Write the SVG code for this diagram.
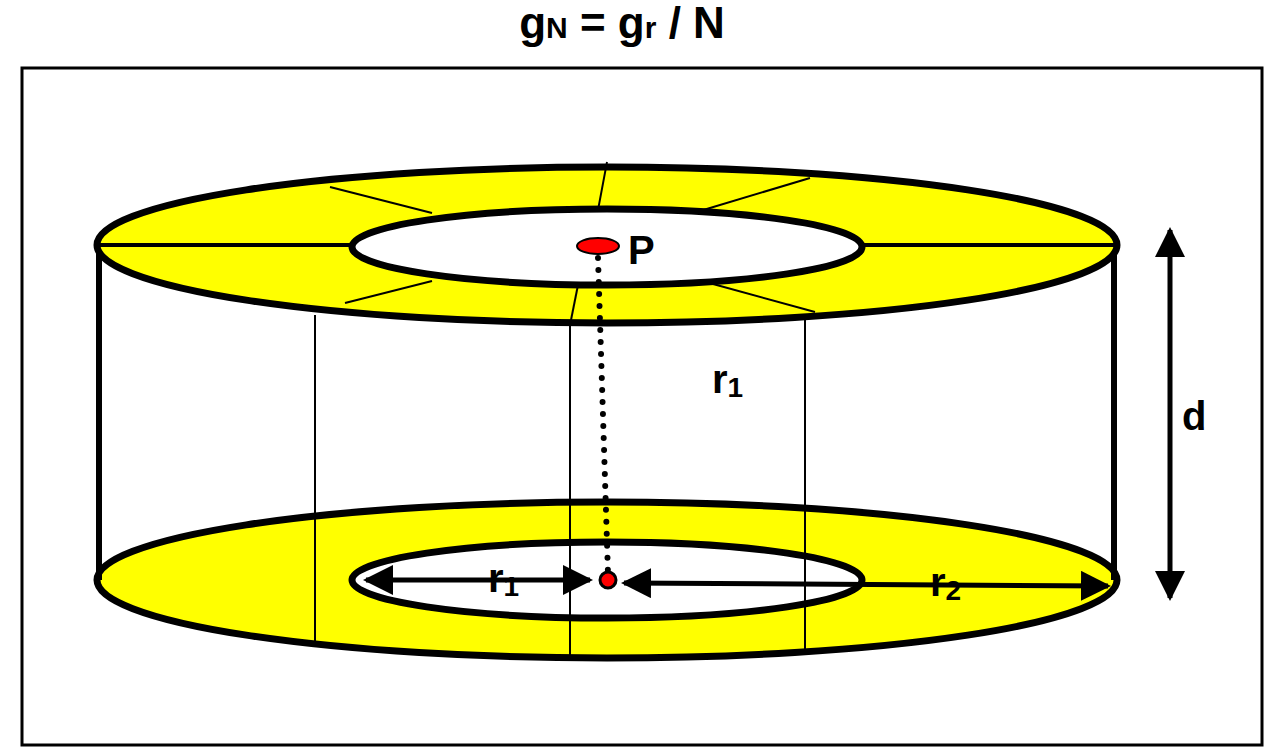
<svg xmlns="http://www.w3.org/2000/svg" width="1284" height="754" viewBox="0 0 1284 754">
<style>
.t{font-family:"Liberation Sans",Arial,sans-serif;font-weight:bold;fill:#000}
.thick{fill:none;stroke:#000;stroke-width:7}
.thin{stroke:#000;stroke-width:2;fill:none}
.ar{stroke:#000;stroke-width:5;fill:none}
</style>
<defs>
<marker id="ah" viewBox="0 0 10 10" refX="9" refY="5" markerWidth="6" markerHeight="6" orient="auto-start-reverse"><path d="M0,0L10,5L0,10z" fill="#000"/></marker>
</defs>
<rect x="0" y="0" width="1284" height="754" fill="#fff"/>
<text class="t" x="622" y="38" font-size="44" text-anchor="middle">g<tspan font-size="30">N</tspan> = g<tspan font-size="30">r</tspan> /  N</text>
<rect x="22" y="68" width="1240" height="677" fill="none" stroke="#000" stroke-width="3"/>
<g id="bottom">
<path d="M97,580A510,78 0 1 0 1117,580A510,78 0 1 0 97,580ZM352,580A255,38 0 1 1 862,580A255,38 0 1 1 352,580Z" fill="#ffff00" fill-rule="evenodd"/>
<ellipse class="thick" cx="607" cy="580" rx="510" ry="78"/>
<ellipse class="thick" cx="607" cy="580" rx="255" ry="38"/>
</g>
<g id="sides">
<line x1="99" y1="245" x2="99" y2="580" stroke="#000" stroke-width="6"/>
<line x1="1114" y1="245" x2="1114" y2="580" stroke="#000" stroke-width="6"/>
<line class="thin" x1="315" y1="315" x2="315" y2="645"/>
<line class="thin" x1="570" y1="320" x2="570" y2="658"/>
<line class="thin" x1="805" y1="318" x2="805" y2="650"/>
</g>
<g id="top">
<path d="M97,245A510,78 0 1 0 1117,245A510,78 0 1 0 97,245ZM352,247A255,38 0 1 1 862,247A255,38 0 1 1 352,247Z" fill="#ffff00" fill-rule="evenodd"/>
<line class="thin" x1="607" y1="162" x2="598" y2="210"/>
<line class="thin" x1="578" y1="285" x2="571" y2="320"/>
<line class="thin" x1="810" y1="178" x2="700" y2="211"/>
<line class="thin" x1="713" y1="284" x2="815" y2="312"/>
<line class="thin" x1="330" y1="187" x2="432" y2="213"/>
<line class="thin" x1="345" y1="303" x2="432" y2="281"/>
<line x1="97" y1="245" x2="352" y2="245" stroke="#000" stroke-width="4"/>
<line x1="862" y1="245" x2="1117" y2="245" stroke="#000" stroke-width="4"/>
<ellipse class="thick" cx="607" cy="245" rx="510" ry="78"/>
<ellipse class="thick" cx="607" cy="247" rx="255" ry="38"/>
</g>
<g id="connectors">
<line x1="598" y1="258" x2="608" y2="574" stroke="#000" stroke-width="6" stroke-linecap="round" stroke-dasharray="0 12"/>
<line class="ar" x1="366" y1="580" x2="590" y2="580" marker-start="url(#ah)" marker-end="url(#ah)"/>
<line class="ar" x1="624" y1="583" x2="1108" y2="586" marker-start="url(#ah)" marker-end="url(#ah)"/>
<line class="ar" x1="1170" y1="230" x2="1170" y2="598" marker-start="url(#ah)" marker-end="url(#ah)"/>
</g>
<g id="P">
<ellipse cx="598" cy="246" rx="21" ry="8" fill="#ff0000" stroke="#000" stroke-width="2"/>
<text class="t" x="628" y="264" font-size="40">P</text>
</g>
<g id="O">
<circle cx="608" cy="580" r="8" fill="#ff0000" stroke="#000" stroke-width="3"/>
</g>
<g id="labels">
<text class="t" x="488" y="592" font-size="40">r<tspan font-size="28" dy="4">1</tspan></text>
<text class="t" x="930" y="596" font-size="40">r<tspan font-size="28" dy="4">2</tspan></text>
<text class="t" x="712" y="393" font-size="40">r<tspan font-size="28" dy="4">1</tspan></text>
<text class="t" x="1182" y="430" font-size="40">d</text>
</g>
</svg>
